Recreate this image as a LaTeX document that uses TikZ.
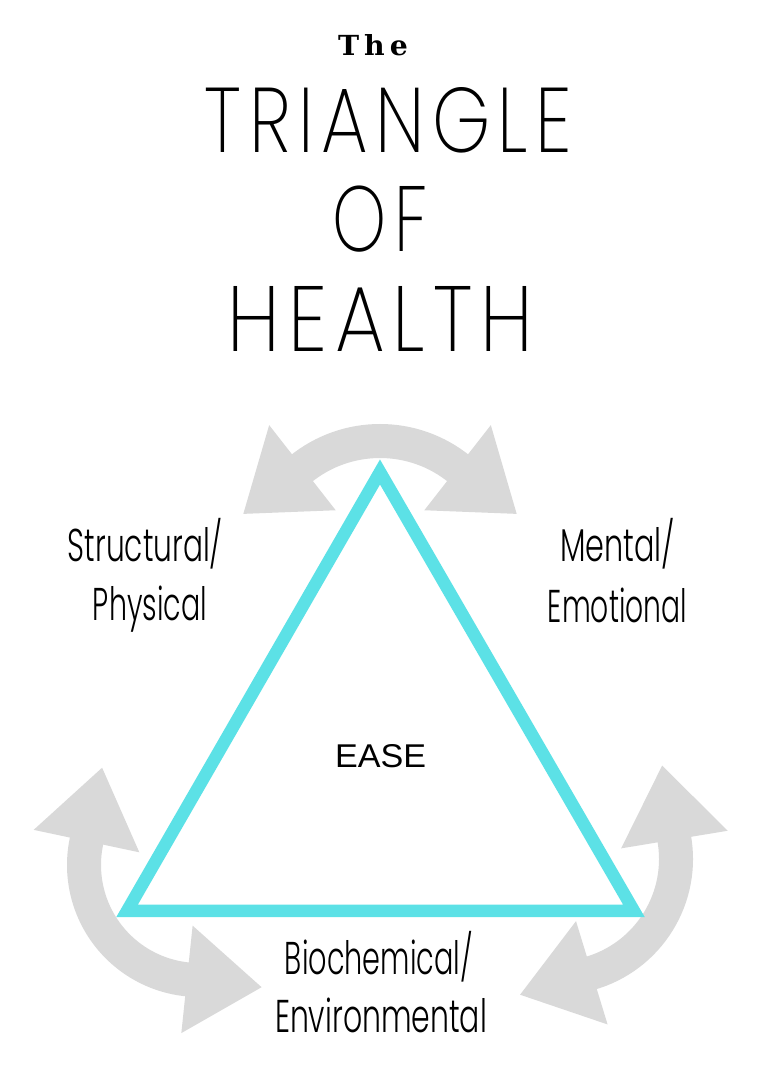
\documentclass[tikz,border=0pt]{standalone}
\usepackage{fontspec}
\usepackage{graphicx}
\usetikzlibrary{calc}
\IfFontExistsTF{Poppins ExtraLight}{\newfontfamily\thinfont{Poppins ExtraLight}}{%
  \IfFontExistsTF{Poppins Thin}{\newfontfamily\thinfont{Poppins Thin}}{%
    \IfFontExistsTF{Lato Light}{\newfontfamily\thinfont{Lato Light}}{%
      \newfontfamily\thinfont{Liberation Sans}}}}
\IfFontExistsTF{Poppins Light}{\newfontfamily\lightfont{Poppins Light}}{%
  \IfFontExistsTF{Poppins ExtraLight}{\newfontfamily\lightfont{Poppins ExtraLight}}{%
    \IfFontExistsTF{Lato Light}{\newfontfamily\lightfont{Lato Light}}{%
      \newfontfamily\lightfont{Liberation Sans}}}}
\newfontfamily\slabfont{DejaVu Serif}
\newfontfamily\arialfont{Liberation Sans}
\definecolor{tricyan}{HTML}{5CE1E6}
\definecolor{arrowgrey}{HTML}{D9D9D9}
\tikzset{
  arrowband/.style={draw=arrowgrey, line width=34pt, line cap=butt},
  arrowhead/.style={fill=arrowgrey, draw=none},
  triedge/.style={draw=tricyan, line width=12.5pt, line join=miter},
  labeltext/.style={anchor=base, inner sep=0pt, text=black},
}
% #1 centre, #2 radius, #3 start angle, #4 end angle (ccw)
\newcommand\dblcurvedarrow[4]{%
  \draw[arrowband] ($(#1)+(#3-1.5:#2)$) arc[start angle=#3-1.5, end angle=#4+1.5, radius=#2];
  \fill[arrowhead] ($(#1)+(#3:#2+54)$) -- ($(#1)+(#3:#2-54)$) -- ($(#1)+(#3:#2)+(#3-90:75)$) -- cycle;
  \fill[arrowhead] ($(#1)+(#4:#2+54)$) -- ($(#1)+(#4:#2-54)$) -- ($(#1)+(#4:#2)+(#4+90:75)$) -- cycle;
}
\newcommand\lab[3]{\resizebox{#1pt}{#2pt}{\lightfont\smash{#3}\vphantom{l}}}
\begin{document}
\begin{tikzpicture}[x=1pt,y=1pt]
\useasboundingbox (0,0) rectangle (768,1086);
\fill[white] (0,0) rectangle (768,1086);

% titles
\node[labeltext] (the) at (373,1030) {\resizebox{70pt}{21pt}{\slabfont\bfseries T\kern.18em h\kern.18em e}};
\node[labeltext] (tri) at (388.5,933) {\resizebox{367pt}{65pt}{\thinfont T\kern.1em R\kern.1em I\kern.1em A\kern.1em N\kern.1em G\kern.1em L\kern.1em E}};
\node[labeltext] (of) at (380,834) {\resizebox{94pt}{65pt}{\thinfont\smash{O\kern.1em F}\vphantom{F}}};
\node[labeltext] (health) at (380.5,734) {\resizebox{305pt}{65pt}{\thinfont H\kern.1em E\kern.1em A\kern.1em L\kern.1em T\kern.1em H}};

% arrows
\coordinate (ctop) at (380,519);
\coordinate (cleft) at (199,221);
\coordinate (cright) at (557,227);
\dblcurvedarrow{ctop}{126}{52}{128}
\dblcurvedarrow{cleft}{115}{168}{264}
\dblcurvedarrow{cright}{119}{-73}{9.4}

% triangle
\coordinate (apex) at (380,614);
\coordinate (bl) at (127,175);
\coordinate (br) at (634,175);
\draw[triedge] (apex) -- (bl) -- (br) -- cycle;

\node[labeltext] (ease) at (380.5,318) {\resizebox{91pt}{23pt}{\arialfont\fontsize{32}{38}\selectfont EASE}};

% labels
\node[labeltext] (s1) at (145.5,524) {\lab{155}{34}{Structural/}};
\node[labeltext] (s2) at (150,465) {\lab{114}{34}{Physical}};
\node[labeltext] (m1) at (617.5,524) {\lab{115}{34}{Mental/}};
\node[labeltext] (m2) at (617.5,463) {\lab{139}{34}{Emotional}};
\node[labeltext] (b1) at (379,111) {\lab{188}{34}{Biochemical/}};
\node[labeltext] (b2) at (381,53) {\lab{212}{34}{Environmental}};
\end{tikzpicture}
\end{document}
